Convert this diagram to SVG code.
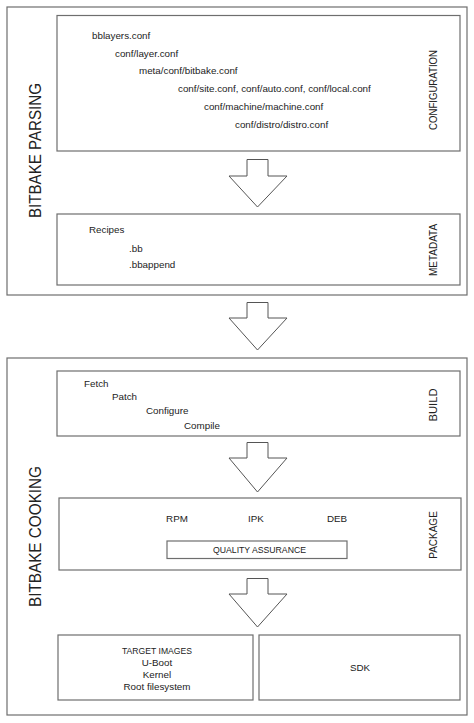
<svg xmlns="http://www.w3.org/2000/svg" width="474" height="723" viewBox="0 0 474 723">
<style>
.box{fill:#fff;stroke:#6e6e6e;stroke-width:1.2}
.arrow{fill:#fff;stroke:#555;stroke-width:1}
text{font-family:"Liberation Sans",Arial,sans-serif;fill:#222}
.t{font-size:9.8px}
.lbl{font-size:10px;text-anchor:middle}
.big{font-size:17px;text-anchor:middle}
.c{text-anchor:middle}
</style>
<rect width="474" height="723" fill="#fff"/>
<g id="bitbake-parsing">
<rect class="box" x="7" y="7" width="460" height="288"/>
<text class="big" transform="translate(41,150.5) rotate(-90)" textLength="135" lengthAdjust="spacingAndGlyphs">BITBAKE PARSING</text>
</g>
<g id="configuration">
<rect class="box" x="57" y="15.5" width="403" height="135.5"/>
<text class="t" x="92" y="39">bblayers.conf</text>
<text class="t" x="115" y="56.5">conf/layer.conf</text>
<text class="t" x="139" y="74">meta/conf/bitbake.conf</text>
<text class="t" x="178" y="91.5">conf/site.conf, conf/auto.conf, conf/local.conf</text>
<text class="t" x="204" y="110">conf/machine/machine.conf</text>
<text class="t" x="235" y="127.5">conf/distro/distro.conf</text>
<text class="lbl" transform="translate(437,90) rotate(-90)" textLength="80" lengthAdjust="spacingAndGlyphs">CONFIGURATION</text>
</g>
<g id="metadata">
<rect class="box" x="57" y="214" width="403" height="71"/>
<text class="t" x="89" y="233">Recipes</text>
<text class="t" x="129" y="252">.bb</text>
<text class="t" x="129" y="268">.bbappend</text>
<text class="lbl" transform="translate(437,250) rotate(-90)">METADATA</text>
</g>
<g id="bitbake-cooking">
<rect class="box" x="7" y="358" width="460" height="357"/>
<text class="big" transform="translate(41,536.5) rotate(-90)" textLength="141" lengthAdjust="spacingAndGlyphs">BITBAKE COOKING</text>
</g>
<g id="build">
<rect class="box" x="57" y="371" width="403" height="65"/>
<text class="t" x="84" y="387">Fetch</text>
<text class="t" x="112" y="400">Patch</text>
<text class="t" x="146" y="414">Configure</text>
<text class="t" x="184" y="428.5">Compile</text>
<text class="lbl" transform="translate(437,405) rotate(-90)" textLength="33" lengthAdjust="spacingAndGlyphs">BUILD</text>
</g>
<g id="package">
<rect class="box" x="59" y="498" width="402" height="72"/>
<text class="t c" x="177" y="522">RPM</text>
<text class="t c" x="256" y="522">IPK</text>
<text class="t c" x="337" y="522">DEB</text>
<text class="lbl" transform="translate(437,535) rotate(-90)">PACKAGE</text>
</g>
<g id="quality-assurance">
<rect class="box" x="167" y="541" width="180" height="17.5"/>
<text class="t c" x="259.5" y="553" textLength="93" lengthAdjust="spacingAndGlyphs">QUALITY ASSURANCE</text>
</g>
<g id="target-images">
<rect class="box" x="58" y="635" width="195" height="65"/>
<text class="t c" x="157" y="654" textLength="70" lengthAdjust="spacingAndGlyphs">TARGET IMAGES</text>
<text class="t c" x="157" y="666">U-Boot</text>
<text class="t c" x="157" y="678">Kernel</text>
<text class="t c" x="157" y="689.5">Root filesystem</text>
</g>
<g id="sdk">
<rect class="box" x="259" y="635" width="201" height="65"/>
<text class="t c" x="360" y="671">SDK</text>
</g>
<g id="connectors">
<polygon class="arrow" points="247,159.5 268,159.5 268,176 287,176 257.5,207 229,176 247,176"/>
<polygon class="arrow" points="247,302.5 268,302.5 268,318 287,318 257.5,350 229,318 247,318"/>
<polygon class="arrow" points="247,442.5 268,442.5 268,458 287,458 257.5,492 229,458 247,458"/>
<polygon class="arrow" points="247,578.5 268,578.5 268,594 287,594 257.5,627 229,594 247,594"/>
</g>
</svg>
